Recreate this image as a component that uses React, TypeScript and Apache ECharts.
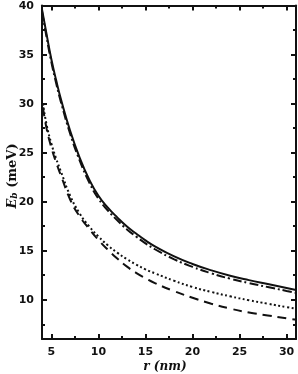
import React, { useEffect, useRef } from "react";
import * as echarts from "echarts";

const rA = [4, 4.5, 5, 5.5, 6, 7, 8, 9, 10, 11, 12, 13, 14, 15, 16, 18, 20, 22, 24, 26, 28, 30, 31];
const solidE = [39.6, 37.0, 34.5, 32.4, 30.5, 27.2, 24.5, 22.3, 20.6, 19.4, 18.4, 17.5, 16.75, 16.05, 15.45, 14.45, 13.65, 13.0, 12.45, 12.0, 11.6, 11.2, 11.0];
const dashDotE = [39.4, 36.7, 34.2, 32.1, 30.2, 26.9, 24.2, 22.0, 20.3, 19.1, 18.1, 17.2, 16.45, 15.75, 15.15, 14.15, 13.35, 12.7, 12.15, 11.7, 11.3, 10.9, 10.7];

const rB = [4.1, 4.5, 5, 5.5, 6, 7, 8, 9, 10, 11, 12, 13, 14, 15, 16, 18, 20, 22, 24, 26, 28, 30, 31];
const dottedE = [30.0, 27.8, 25.9, 24.4, 23.1, 20.6, 18.8, 17.5, 16.45, 15.55, 14.8, 14.15, 13.6, 13.1, 12.7, 11.95, 11.3, 10.8, 10.35, 9.95, 9.6, 9.25, 9.1];
const dashedE = [29.6, 27.4, 25.5, 24.0, 22.7, 20.2, 18.5, 17.25, 16.1, 15.1, 14.2, 13.4, 12.75, 12.2, 11.7, 10.9, 10.2, 9.6, 9.1, 8.7, 8.4, 8.1, 7.98];

const xMajor = [5, 10, 15, 20, 25, 30];
const xMinor = [7.5, 12.5, 17.5, 22.5, 27.5];
const yMajor = [10, 15, 20, 25, 30, 35, 40];
const yMinor = [7.5, 12.5, 17.5, 22.5, 27.5, 32.5, 37.5];

const X_MIN = 4, X_MAX = 31, Y_MIN = 6, Y_MAX = 40;
const INK = "#111";

function pairs(xs: number[], ys: number[]) {
  return xs.map((x, i) => [x, ys[i]]);
}

export default function App() {
  const ref = useRef<HTMLDivElement>(null);
  useEffect(() => {
    if (!ref.current) return;
    const chart = echarts.init(ref.current, null, { renderer: "svg" });
    const labelFont = { fontFamily: "DejaVu Sans", fontWeight: "bold" as const, fontSize: 11, color: INK };
    const baseX = (pos: string, vals: number[], len: number, line: boolean, labels: boolean) => ({
      type: "value", position: pos, min: X_MIN, max: X_MAX, gridIndex: 0,
      axisLine: { show: line, onZero: false, lineStyle: { color: INK, width: 2 } },
      axisTick: { show: true, inside: true, length: len, customValues: vals, lineStyle: { color: INK, width: 2 } },
      axisLabel: labels ? { show: true, customValues: vals, margin: 7, ...labelFont } : { show: false },
      splitLine: { show: false },
    });
    const baseY = (pos: string, vals: number[], len: number, line: boolean, labels: boolean) => ({
      type: "value", position: pos, min: Y_MIN, max: Y_MAX, gridIndex: 0,
      axisLine: { show: line, onZero: false, lineStyle: { color: INK, width: 2 } },
      axisTick: { show: true, inside: true, length: len, customValues: vals, lineStyle: { color: INK, width: 2 } },
      axisLabel: labels ? { show: true, customValues: vals, margin: 8, ...labelFont } : { show: false },
      splitLine: { show: false },
    });
    const mk = (name: string, xs: number[], ys: number[], type: any) => ({
      name, type: "line", smooth: true, symbol: "none", data: pairs(xs, ys),
      xAxisIndex: 0, yAxisIndex: 0,
      lineStyle: { color: INK, width: 2, type },
    });
    chart.setOption({
      animation: false,
      grid: { left: 42, top: 5, right: 2, bottom: 35, containLabel: false },
      xAxis: [
        baseX("bottom", xMajor, 5, true, true),
        baseX("bottom", xMinor, 3, false, false),
        baseX("top", xMajor, 5, true, false),
        baseX("top", xMinor, 3, false, false),
      ],
      yAxis: [
        baseY("left", yMajor, 5, true, true),
        baseY("left", yMinor, 3, false, false),
        baseY("right", yMajor, 5, true, false),
        baseY("right", yMinor, 3, false, false),
      ],
      series: [
        mk("solid", rA, solidE, "solid"),
        mk("dashdot", rA, dashDotE, [9, 3, 2, 3]),
        mk("dotted", rB, dottedE, [2, 2.5]),
        mk("dashed", rB, dashedE, [9, 6]),
      ],
      graphic: [
        {
          type: "text", x: 10, y: 176, rotation: Math.PI / 2,
          style: {
            text: "{e|E}{b|b}{n| (meV)}",
            align: "center", verticalAlign: "middle",
            rich: {
              e: { fontFamily: "DejaVu Serif", fontStyle: "italic", fontWeight: "bold", fontSize: 13, fill: INK, lineHeight: 16, verticalAlign: "bottom" },
              b: { fontFamily: "DejaVu Serif", fontStyle: "italic", fontWeight: "bold", fontSize: 9, fill: INK, lineHeight: 16, verticalAlign: "bottom", padding: [6, 0, 0, 0] },
              n: { fontFamily: "DejaVu Serif", fontWeight: "bold", fontSize: 13, fill: INK, lineHeight: 16, verticalAlign: "bottom" },
            },
          },
        },
        {
          type: "text", x: 165, y: 366,
          style: {
            text: "r (nm)", align: "center", verticalAlign: "middle",
            font: "italic bold 12px 'DejaVu Serif'", fill: INK,
          },
        },
      ],
    });
    return () => chart.dispose();
  }, []);
  return <div ref={ref} style={{ position: "fixed", left: 0, top: 0, width: 298, height: 374 }} />;
}
